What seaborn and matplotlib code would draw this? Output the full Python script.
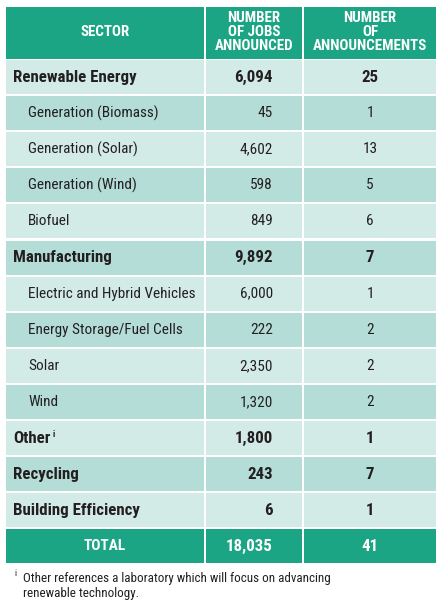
import matplotlib
matplotlib.use("Agg")
import matplotlib.pyplot as plt
import seaborn as sns

sectors = ["Renewable Energy", "Generation (Biomass)", "Generation (Solar)", "Generation (Wind)",
           "Biofuel", "Manufacturing", "Electric and Hybrid Vehicles", "Energy Storage/Fuel Cells",
           "Solar", "Wind", "Other", "Recycling", "Building Efficiency"]
is_main = [True, False, False, False, False, True, False, False, False, False, True, True, True]
jobs = [6094, 45, 4602, 598, 849, 9892, 6000, 222, 2350, 1320, 1800, 243, 6]
announcements = [25, 1, 13, 5, 6, 7, 1, 2, 2, 2, 1, 7, 1]
total_jobs = 18035
total_ann = 41
headers = ["SECTOR", "NUMBER\nOF JOBS\nANNOUNCED", "NUMBER\nOF\nANNOUNCEMENTS"]
footnote = "Other references a laboratory which will focus on advancing\nrenewable technology."

sns.set_theme(style="white")
FONT = ["Roboto Condensed", "PT Sans Narrow", "DejaVu Sans"]
plt.rcParams["font.family"] = FONT

GREEN = "#1ba584"
LIGHT = "#d3ebe6"
DARK = "#b4ddd7"
TXT = "#231f20"

fig = plt.figure(figsize=(4.41, 6.09), dpi=100)
ax = fig.add_axes([0, 0, 1, 1])
ax.set_xlim(0, 441)
ax.set_ylim(609, 0)
ax.axis("off")

cols = [(6, 204), (206, 302), (304, 436)]
top0 = 60
pitch = 36.1

def row_rect(y0, y1, color):
    for (x0, x1) in cols:
        ax.barh((y0 + y1) / 2, x1 - x0, height=y1 - y0, left=x0, color=color, linewidth=0)

# header
row_rect(7, 59, GREEN)
hx = [(cols[0][0] + cols[0][1]) / 2, (cols[1][0] + cols[1][1]) / 2, (cols[2][0] + cols[2][1]) / 2]
for x, h in zip(hx, headers):
    ax.text(x, 32.5, h, ha="center", va="center", color="white", fontsize=10.8,
            fontweight="bold", linespacing=1.0)

x_num = 273
x_ann = 370
for i, (s, m, j, a) in enumerate(zip(sectors, is_main, jobs, announcements)):
    y0 = top0 + i * pitch
    y1 = y0 + pitch - 2
    row_rect(y0, y1, LIGHT if i % 2 == 0 else DARK)
    yc = (y0 + y1) / 2
    w = "bold" if m else "normal"
    fs = 12.2 if m else 11
    xs = 13 if m else 28
    t = ax.text(xs, yc, s, ha="left", va="center", color=TXT, fontsize=fs, fontweight=w)
    if s == "Other":
        ax.annotate("i", xy=(1, 1), xycoords=t, xytext=(1.5, 0.5), textcoords="offset points",
                    ha="left", va="top", color=TXT, fontsize=6.5, fontweight="bold")
    ax.text(x_num, yc, f"{j:,}", ha="right", va="center", color=TXT, fontsize=fs, fontweight=w)
    ax.text(x_ann, yc, f"{a}", ha="center", va="center", color=TXT, fontsize=fs, fontweight=w)

# total
yt0 = top0 + len(sectors) * pitch
yt1 = 563
row_rect(yt0, yt1, GREEN)
ytc = (yt0 + yt1) / 2
ax.text(hx[0], ytc, "TOTAL", ha="center", va="center", color="white", fontsize=11, fontweight="bold")
ax.text(x_num, ytc, f"{total_jobs:,}", ha="right", va="center", color="white", fontsize=12.2, fontweight="bold")
ax.text(x_ann, ytc, f"{total_ann}", ha="center", va="center", color="white", fontsize=12.2, fontweight="bold")

# footnote
ax.text(14, 574, "i", ha="left", va="center", color=TXT, fontsize=6.5)
ax.text(23, 586, footnote, ha="left", va="center", color=TXT, fontsize=9.4, linespacing=1.25)

fig.savefig("out.png", dpi=100)
